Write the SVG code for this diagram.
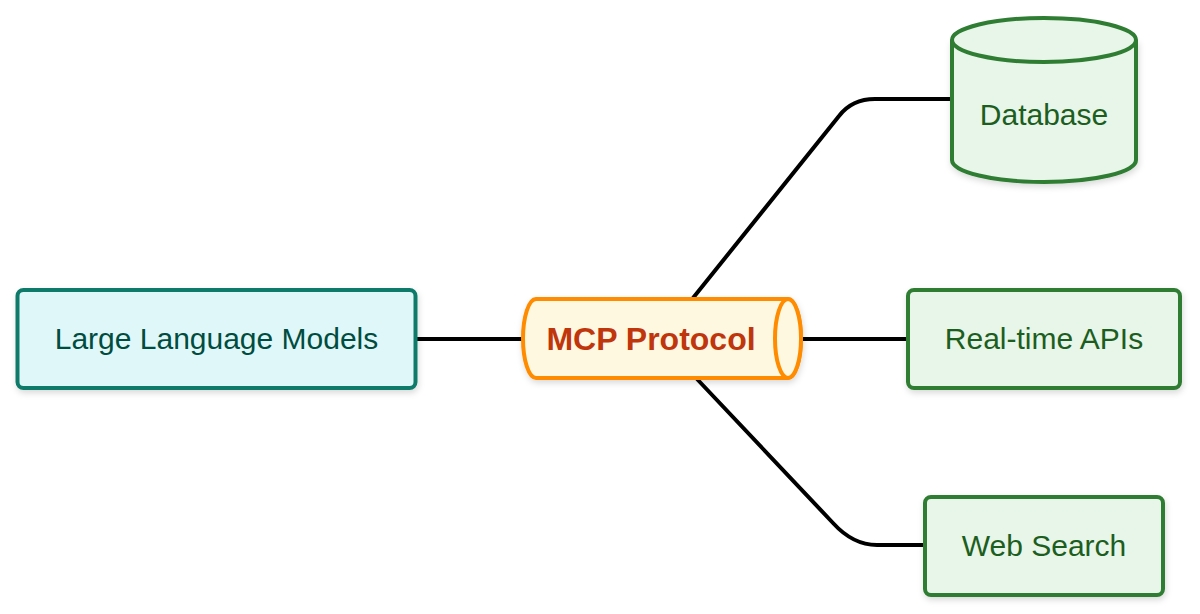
<svg xmlns="http://www.w3.org/2000/svg" width="1200" height="614" viewBox="0 0 1200 614">
<defs>
<filter id="sh" x="-10%" y="-10%" width="120%" height="130%">
<feDropShadow dx="1" dy="3" stdDeviation="3" flood-color="#000" flood-opacity="0.15"/>
</filter>
</defs>
<style>
.t{font-family:"Liberation Sans",Arial,sans-serif;font-size:30px;text-anchor:middle}
.g{fill:#e8f5e9;stroke:#2e7d32;stroke-width:4}
.gt{fill:#1b5e20}
.c{fill:none;stroke:#000;stroke-width:4}
</style>
<rect width="1200" height="614" fill="#fff"/>
<g id="connectors">
<path class="c" d="M417,339 L523,339"/>
<path class="c" d="M801,339 L908,339"/>
<path class="c" d="M693,298 L839,116 Q852,99 875,99 L952,99"/>
<path class="c" d="M697,379 L833,523 Q853,545 877,545 L925,545"/>
</g>
<g id="llm">
<rect x="17.5" y="290" width="398" height="98" rx="6" fill="#e0f7fa" stroke="#0f7a6a" stroke-width="4" filter="url(#sh)"/>
<text class="t" x="216.5" y="349" fill="#004d40">Large Language Models</text>
</g>
<g id="mcp">
<path d="M536,299 L788,299 A13,39.5 0 0 1 788,378 L536,378 A13,39.5 0 0 1 536,299 Z" fill="#fff8e1" stroke="#ff8c00" stroke-width="4" filter="url(#sh)"/>
<ellipse cx="788" cy="338.5" rx="13" ry="39.5" fill="#fff8e1" stroke="#ff8c00" stroke-width="4"/>
<text class="t" x="651" y="350" fill="#bf360c" style="font-weight:bold;font-size:32px">MCP Protocol</text>
</g>
<g id="database">
<path class="g" d="M952,40 L952,160 A92,22 0 0 0 1136,160 L1136,40" filter="url(#sh)"/>
<ellipse class="g" cx="1044" cy="40" rx="92" ry="22"/>
<text class="t gt" x="1044" y="125">Database</text>
</g>
<g id="apis">
<rect class="g" x="908" y="290" width="272" height="98" rx="6" filter="url(#sh)"/>
<text class="t gt" x="1044" y="349">Real-time APIs</text>
</g>
<g id="websearch">
<rect class="g" x="925" y="497" width="238" height="98" rx="6" filter="url(#sh)"/>
<text class="t gt" x="1044" y="556">Web Search</text>
</g>
</svg>
